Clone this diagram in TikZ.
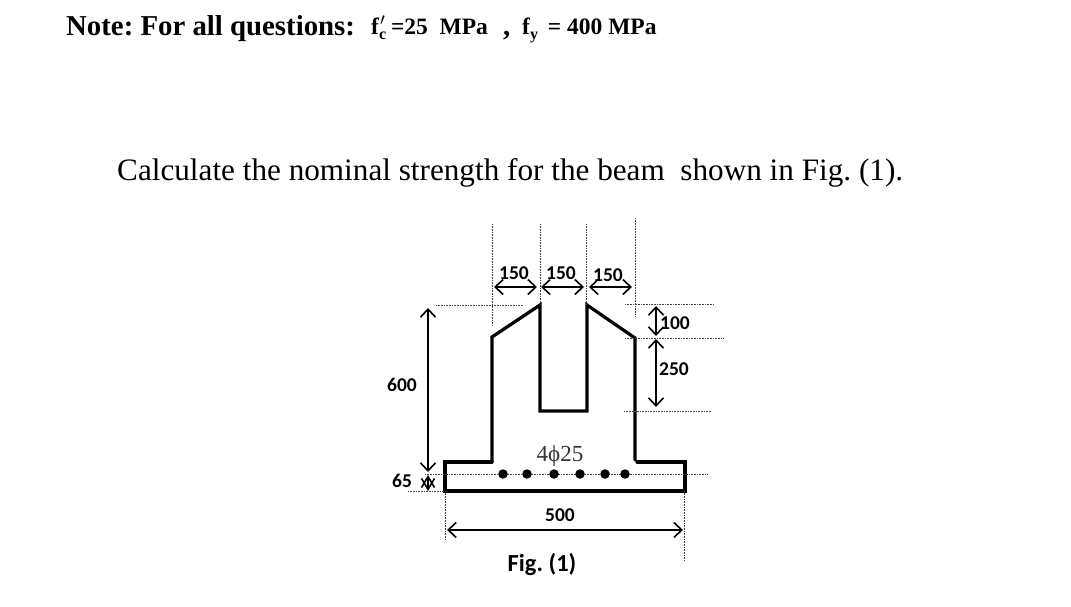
\documentclass[tikz,border=0pt]{standalone}
\usepackage{fontspec}
\setmainfont{Liberation Serif}
\setsansfont{Carlito}
\usetikzlibrary{arrows.meta}
\frenchspacing
\newcommand{\fsym}[2]{f\rlap{\raisebox{-5pt}{\fontsize{16}{16}\selectfont #1}}\rlap{\hspace{1pt}#2}\hspace{12pt}}
\tikzset{
  outline/.style={line width=3.2pt, line join=miter, line cap=round},
  guide/.style={densely dotted, line width=0.6pt, black!75},
  dimen/.style={<->, line width=1.6pt},
  lbl/.style={inner sep=0pt, font=\sffamily\bfseries\fontsize{19.5}{19.5}\selectfont},
  bar/.style={circle, fill=black, minimum size=9.5pt, inner sep=0pt},
  >={Straight Barb[length=8pt, width=15pt, line width=1.6pt]}
}
\begin{document}
\begin{tikzpicture}[x=1pt, y=-1pt]
    \useasboundingbox[fill=white] (0, 0) rectangle (1071, 607);

    % Texts
    \node[anchor=base west, inner sep=0pt, font=\bfseries\fontsize{28.8}{28.8}\selectfont] at (66, 36) (note) {Note: For all questions:};
    \node[anchor=base west, inner sep=0pt, font=\bfseries\fontsize{23.5}{23.5}\selectfont] at (371, 35) (fc) {\fsym{c}{$'$}=25\ \ MPa};
    \node[anchor=base west, inner sep=0pt, font=\bfseries\fontsize{28.8}{28.8}\selectfont] at (503, 36) (comma) {,};
    \node[anchor=base west, inner sep=0pt, font=\bfseries\fontsize{23.5}{23.5}\selectfont] at (522, 35) (fy) {\fsym{y}{}\ = 400 MPa};
    \node[anchor=base west, inner sep=0pt, font=\fontsize{31.2}{31.2}\selectfont] at (117, 180) (task) {Calculate the nominal strength for the beam\ \ shown in Fig. (1).};

    % Outline
    \draw[outline] (492, 462) -- (445, 462) -- (445, 491) -- (685, 491) -- (685, 462) -- (637, 462);
    \draw[outline] (492, 462) -- (492, 337) -- (540, 305) -- (540, 411) -- (587, 411) -- (587, 305) -- (635, 338) -- (635, 460);

    % Dotted guides
    \draw[guide] (492, 224) -- (492, 325);
    \draw[guide] (540, 224) -- (540, 305);
    \draw[guide] (586, 224) -- (586, 305);
    \draw[guide] (635, 218) -- (635, 317);
    \draw[guide] (436, 305) -- (524, 305);
    \draw[guide] (625, 304) -- (714, 304);
    \draw[guide] (625, 338) -- (723, 338);
    \draw[guide] (624, 411) -- (712, 411);
    \draw[guide] (425, 474) -- (708, 474);
    \draw[guide] (408, 491) -- (445, 491);
    \draw[guide] (445, 491) -- (445, 540);
    \draw[guide] (684, 491) -- (684, 560);

    % Dimension ends
    \coordinate (w1) at (494, 287);
    \coordinate (w2) at (537, 287);
    \coordinate (w3) at (541, 287);
    \coordinate (w4) at (584, 287);
    \coordinate (w5) at (589, 287);
    \coordinate (w6) at (632, 287);
    \coordinate (h1) at (656, 306);
    \coordinate (h2) at (656, 336);
    \coordinate (h3) at (656, 339);
    \coordinate (h4) at (656, 407);
    \coordinate (t1) at (428, 308);
    \coordinate (t2) at (428, 472);
    \coordinate (c1) at (428, 475);
    \coordinate (c2) at (428, 491);
    \coordinate (b1) at (447, 530);
    \coordinate (b2) at (683, 530);

    \draw[dimen] (w1) -- (w2);
    \draw[dimen] (w3) -- (w4);
    \draw[dimen] (w5) -- (w6);
    \draw[dimen] (h1) -- (h2);
    \draw[dimen] (h3) -- (h4);
    \draw[dimen] (t1) -- (t2);
    \draw[dimen, >={Straight Barb[length=11pt, width=13pt, line width=1.6pt]}] (c1) -- (c2);
    \draw[dimen] (b1) -- (b2);

    % Labels
    \node[lbl] at (514, 273) (l150a) {150};
    \node[lbl] at (561, 273) (l150b) {150};
    \node[lbl] at (608, 275) (l150c) {150};
    \node[lbl] at (675, 323) (l100) {100};
    \node[lbl] at (674, 369) (l250) {250};
    \node[lbl] at (402, 385) (l600) {600};
    \node[lbl] at (402, 481) (l65) {65};
    \node[lbl] at (560, 515) (l500) {500};
    \node[inner sep=0pt, black!80, font=\fontsize{23}{23}\selectfont] at (560, 456) (lbars) {4ϕ25};
    \node[lbl, font=\sffamily\bfseries\fontsize{24.5}{24.5}\selectfont] at (542, 564) (lfig) {Fig. (1)};

    % Bars
    \foreach \xpos in {503, 527, 554, 580, 605, 625} {
      \node[bar] at (\xpos, 474) (bar\xpos) {};
    }

  \end{tikzpicture}
\end{document}
